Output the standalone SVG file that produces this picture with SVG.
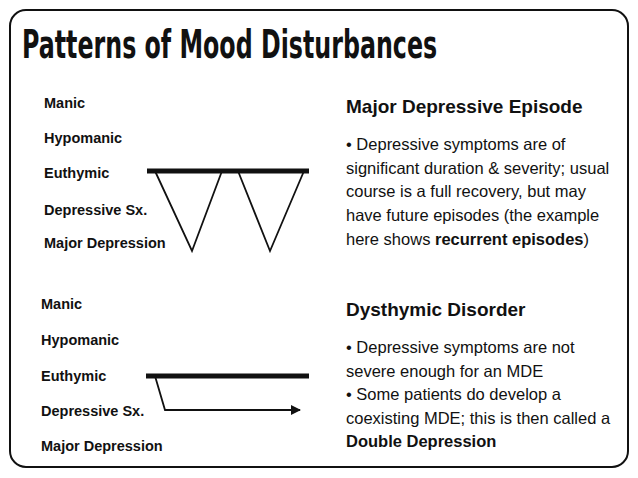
<svg xmlns="http://www.w3.org/2000/svg" width="638" height="478" viewBox="0 0 638 478">
<style>
.l{font-family:"Liberation Sans",Arial,sans-serif;font-weight:bold;font-size:14.5px;fill:#111}
.h{font-family:"Liberation Sans",Arial,sans-serif;font-weight:bold;font-size:19px;fill:#111}
.b{font-family:"Liberation Sans",Arial,sans-serif;font-size:16.5px;fill:#111}
.t{font-family:"DejaVu Sans Condensed","DejaVu Sans",sans-serif;font-weight:bold;font-size:33px;fill:#111}
.thick{stroke:#111;stroke-width:5}
.thin{stroke:#111;stroke-width:1.8;fill:none}
</style>
<defs><marker id="a" markerWidth="10" markerHeight="10" refX="9" refY="5" orient="auto" markerUnits="userSpaceOnUse"><path d="M0,0 L10,5 L0,10Z" fill="#111"/></marker></defs>
<rect x="0" y="0" width="638" height="478" fill="#fff"/>
<rect x="10" y="10" width="618" height="457" rx="16" fill="#fff" stroke="#111" stroke-width="2"/>
<text class="t" x="0" y="0" transform="translate(22 58) scale(0.8 1.2)">Patterns of Mood Disturbances</text>
<g id="labels-top">
<text class="l" x="44" y="108">Manic</text>
<text class="l" x="44" y="143">Hypomanic</text>
<text class="l" x="44" y="178">Euthymic</text>
<text class="l" x="44" y="215">Depressive Sx.</text>
<text class="l" x="44" y="248">Major Depression</text>
</g>
<g id="labels-bottom">
<text class="l" x="41" y="309">Manic</text>
<text class="l" x="41" y="345">Hypomanic</text>
<text class="l" x="41" y="381">Euthymic</text>
<text class="l" x="41" y="416">Depressive Sx.</text>
<text class="l" x="41" y="451">Major Depression</text>
</g>
<g id="connectors">
<line class="thick" x1="147" y1="171" x2="309" y2="171"/>
<polyline class="thin" points="155,171 192,251 222,171"/>
<polyline class="thin" points="238,171 270,251 304,171"/>
<line class="thick" x1="146" y1="376" x2="309" y2="376"/>
<polyline class="thin" points="155,376 165,410 300,410" marker-end="url(#a)"/>
</g>
<g id="mde">
<text class="h" x="346" y="113">Major Depressive Episode</text>
<text class="b" x="346" y="150">• Depressive symptoms are of</text>
<text class="b" x="346" y="174">significant duration &amp; severity; usual</text>
<text class="b" x="346" y="197">course is a full recovery, but may</text>
<text class="b" x="346" y="221">have future episodes (the example</text>
<text class="b" x="346" y="245">here shows <tspan font-weight="bold">recurrent episodes</tspan>)</text>
</g>
<g id="dysthymic">
<text class="h" x="346" y="316">Dysthymic Disorder</text>
<text class="b" x="346" y="353">• Depressive symptoms are not</text>
<text class="b" x="346" y="377">severe enough for an MDE</text>
<text class="b" x="346" y="400">• Some patients do develop a</text>
<text class="b" x="346" y="424">coexisting MDE; this is then called a</text>
<text class="b" x="346" y="447" font-weight="bold">Double Depression</text>
</g>
</svg>
